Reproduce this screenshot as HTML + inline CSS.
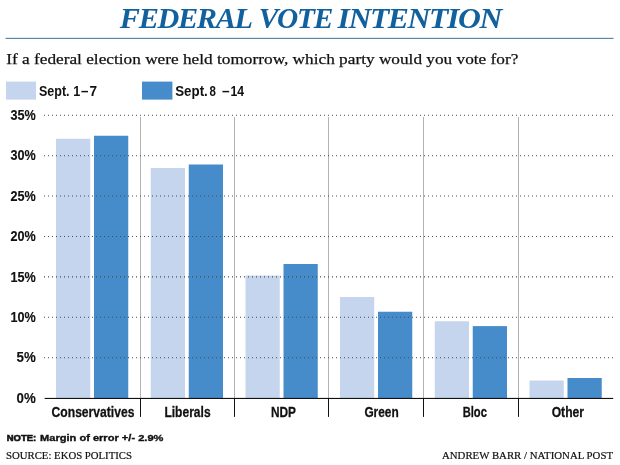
<!DOCTYPE html>
<html lang="en">
<head>
<meta charset="utf-8">
<title>Federal Vote Intention</title>
<style>
html,body{margin:0;padding:0;background:#fff;}
body{width:620px;height:465px;overflow:hidden;}
svg{display:block;}
.t{font-family:"Liberation Serif",serif;font-weight:bold;font-style:italic;fill:#12619f;}
.s{font-family:"Liberation Serif",serif;fill:#111;}
.c{font-family:"Liberation Sans",sans-serif;font-weight:bold;fill:#111;}
</style>
</head>
<body>
<svg width="620" height="465" viewBox="0 0 620 465">
<rect width="620" height="465" fill="#ffffff"/>
<text class="t" y="28" font-size="29.6" letter-spacing="-1.3"><tspan x="119.8" textLength="130.8" lengthAdjust="spacingAndGlyphs">FEDERAL</tspan> <tspan x="258.8" textLength="73.2" lengthAdjust="spacingAndGlyphs">VOTE</tspan> <tspan x="337.5" textLength="163.4" lengthAdjust="spacingAndGlyphs">INTENTION</tspan></text>
<rect x="5.5" y="37.85" width="608" height="0.95" fill="#336a98"/>
<text class="s" x="6.2" y="64" font-size="15.6" textLength="512.2" stroke="#111" stroke-width="0.25" lengthAdjust="spacingAndGlyphs">If a federal election were held tomorrow, which party would you vote for?</text>
<rect x="6" y="81.6" width="30" height="18" fill="#c6d5ee"/>
<rect x="142" y="81.6" width="30.4" height="18" fill="#468ccb"/>
<text class="c" y="96" font-size="14.6"><tspan x="39" textLength="30.6" lengthAdjust="spacingAndGlyphs">Sept.</tspan> <tspan x="73.2" textLength="7" lengthAdjust="spacingAndGlyphs">1</tspan><tspan x="81" textLength="7.4" lengthAdjust="spacingAndGlyphs">–</tspan><tspan x="89.6" textLength="7.6" lengthAdjust="spacingAndGlyphs">7</tspan></text>
<text class="c" y="96" font-size="14.6"><tspan x="175.2" textLength="32.6" lengthAdjust="spacingAndGlyphs">Sept.</tspan> <tspan x="209.6" textLength="6.4" lengthAdjust="spacingAndGlyphs">8</tspan> <tspan x="222" textLength="7.6" lengthAdjust="spacingAndGlyphs">–</tspan><tspan x="230.4" textLength="13.6" lengthAdjust="spacingAndGlyphs">14</tspan></text>
<rect x="140.0" y="117" width="1" height="281" fill="#b2b2b2"/>
<rect x="234.0" y="117" width="1" height="281" fill="#b2b2b2"/>
<rect x="328.0" y="117" width="1" height="281" fill="#b2b2b2"/>
<rect x="423.0" y="117" width="1" height="281" fill="#b2b2b2"/>
<rect x="518.0" y="117" width="1" height="281" fill="#b2b2b2"/>
<rect x="56" y="138.75" width="34.25" height="259.25" fill="#c6d5ee"/>
<rect x="94" y="135.75" width="34.25" height="262.25" fill="#468ccb"/>
<rect x="150.75" y="168" width="34.25" height="230.00" fill="#c6d5ee"/>
<rect x="188.75" y="164.5" width="34.25" height="233.50" fill="#468ccb"/>
<rect x="245.5" y="275.5" width="34.25" height="122.50" fill="#c6d5ee"/>
<rect x="283.5" y="264" width="34.25" height="134.00" fill="#468ccb"/>
<rect x="340" y="297" width="34.25" height="101.00" fill="#c6d5ee"/>
<rect x="378" y="311.75" width="34.25" height="86.25" fill="#468ccb"/>
<rect x="434.75" y="321.25" width="34.25" height="76.75" fill="#c6d5ee"/>
<rect x="472.75" y="326.1" width="34.25" height="71.90" fill="#468ccb"/>
<rect x="529.5" y="380.5" width="34.25" height="17.50" fill="#c6d5ee"/>
<rect x="567.5" y="378" width="34.25" height="20.00" fill="#468ccb"/>
<line x1="44" y1="115.3" x2="614" y2="115.3" stroke="#4c4c4c" stroke-width="1.1" stroke-dasharray="1 3"/>
<line x1="44" y1="155.7" x2="614" y2="155.7" stroke="#4c4c4c" stroke-width="1.1" stroke-dasharray="1 3"/>
<line x1="44" y1="196.0" x2="614" y2="196.0" stroke="#4c4c4c" stroke-width="1.1" stroke-dasharray="1 3"/>
<line x1="44" y1="236.45" x2="614" y2="236.45" stroke="#4c4c4c" stroke-width="1.1" stroke-dasharray="1 3"/>
<line x1="44" y1="276.9" x2="614" y2="276.9" stroke="#4c4c4c" stroke-width="1.1" stroke-dasharray="1 3"/>
<line x1="44" y1="317.25" x2="614" y2="317.25" stroke="#4c4c4c" stroke-width="1.1" stroke-dasharray="1 3"/>
<line x1="44" y1="357.7" x2="614" y2="357.7" stroke="#4c4c4c" stroke-width="1.1" stroke-dasharray="1 3"/>
<rect x="44.6" y="397.9" width="568.6" height="1.1" fill="#111"/>
<rect x="140.0" y="398" width="1" height="18.9" fill="#111"/>
<rect x="234.0" y="398" width="1" height="18.9" fill="#111"/>
<rect x="328.0" y="398" width="1" height="18.9" fill="#111"/>
<rect x="423.0" y="398" width="1" height="18.9" fill="#111"/>
<rect x="518.0" y="398" width="1" height="18.9" fill="#111"/>
<text class="c" x="10.5" y="120.00" font-size="15.4" stroke="#111" stroke-width="0.15" textLength="25.3" lengthAdjust="spacingAndGlyphs">35%</text>
<text class="c" x="10.5" y="160.40" font-size="15.4" stroke="#111" stroke-width="0.15" textLength="25.3" lengthAdjust="spacingAndGlyphs">30%</text>
<text class="c" x="10.5" y="200.70" font-size="15.4" stroke="#111" stroke-width="0.15" textLength="25.3" lengthAdjust="spacingAndGlyphs">25%</text>
<text class="c" x="10.5" y="241.15" font-size="15.4" stroke="#111" stroke-width="0.15" textLength="25.3" lengthAdjust="spacingAndGlyphs">20%</text>
<text class="c" x="10.5" y="281.60" font-size="15.4" stroke="#111" stroke-width="0.15" textLength="25.3" lengthAdjust="spacingAndGlyphs">15%</text>
<text class="c" x="10.5" y="321.95" font-size="15.4" stroke="#111" stroke-width="0.15" textLength="25.3" lengthAdjust="spacingAndGlyphs">10%</text>
<text class="c" x="16.6" y="362.40" font-size="15.4" stroke="#111" stroke-width="0.15" textLength="19.2" lengthAdjust="spacingAndGlyphs">5%</text>
<text class="c" x="16.6" y="402.70" font-size="15.4" stroke="#111" stroke-width="0.15" textLength="19.2" lengthAdjust="spacingAndGlyphs">0%</text>
<text class="c" x="51.6" y="417.3" font-size="15.4" stroke="#111" stroke-width="0.3" textLength="82.8" lengthAdjust="spacingAndGlyphs">Conservatives</text>
<text class="c" x="164.4" y="417.3" font-size="15.4" stroke="#111" stroke-width="0.3" textLength="46.2" lengthAdjust="spacingAndGlyphs">Liberals</text>
<text class="c" x="271" y="417.3" font-size="15.4" stroke="#111" stroke-width="0.3" textLength="25.0" lengthAdjust="spacingAndGlyphs">NDP</text>
<text class="c" x="364.4" y="417.3" font-size="15.4" stroke="#111" stroke-width="0.3" textLength="34.3" lengthAdjust="spacingAndGlyphs">Green</text>
<text class="c" x="462.7" y="417.3" font-size="15.4" stroke="#111" stroke-width="0.3" textLength="24.2" lengthAdjust="spacingAndGlyphs">Bloc</text>
<text class="c" x="551.7" y="417.3" font-size="15.4" stroke="#111" stroke-width="0.3" textLength="32.3" lengthAdjust="spacingAndGlyphs">Other</text>
<text class="c" y="441" font-size="9.2" stroke="#111" stroke-width="0.35"><tspan x="6.8" textLength="29.4" lengthAdjust="spacingAndGlyphs" stroke-width="0.6">NOTE:</tspan> <tspan x="40" textLength="123.4" lengthAdjust="spacingAndGlyphs">Margin of error +/- 2.9%</tspan></text>
<text class="s" x="6" y="459.2" font-size="10.5" textLength="126" stroke="#111" stroke-width="0.2" lengthAdjust="spacingAndGlyphs">SOURCE: EKOS POLITICS</text>
<text class="s" x="442" y="459.2" font-size="10.5" textLength="171" stroke="#111" stroke-width="0.2" lengthAdjust="spacingAndGlyphs">ANDREW BARR / NATIONAL POST</text>
</svg>
</body>
</html>
